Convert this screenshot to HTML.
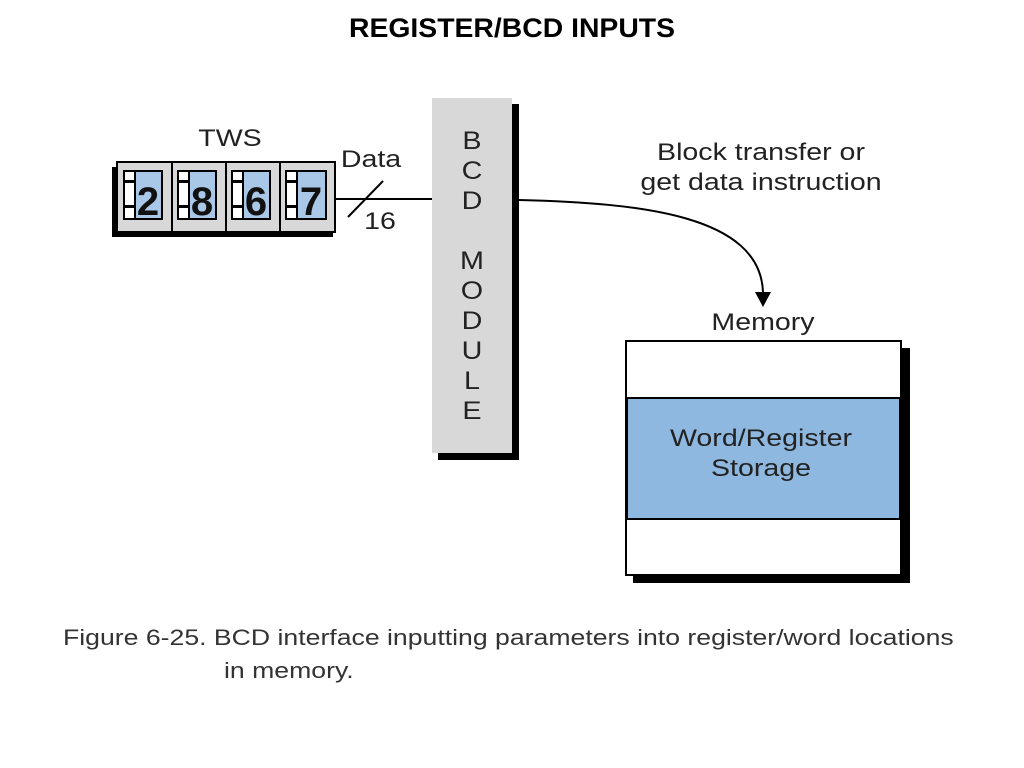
<!DOCTYPE html>
<html><head><style>
body{margin:0;width:1024px;height:768px;background:#fff;overflow:hidden;position:relative;font-family:"Liberation Sans",sans-serif}
.t{position:absolute;white-space:nowrap}
.c{position:absolute;white-space:nowrap;width:400px;text-align:center;transform:scaleX(1.19);transform-origin:center;color:#222;font-size:24px}
</style></head><body>
<div class="t" style="left:0;width:1024px;text-align:center;top:13px;font-size:27px;font-weight:bold;color:#000;transform:scaleX(1.05)">REGISTER/BCD INPUTS</div>
<svg width="1024" height="768" style="position:absolute;left:0;top:0">
<rect x="112" y="167" width="221" height="70" fill="#000"/>
<rect x="117" y="162" width="218" height="70" fill="#d8d8d8" stroke="#000" stroke-width="2"/>
<g stroke="#000" stroke-width="2">
<line x1="172" y1="162" x2="172" y2="232"/><line x1="226" y1="162" x2="226" y2="232"/><line x1="280" y1="162" x2="280" y2="232"/>
</g>
<g>
<rect x="123" y="170" width="40" height="50" fill="#000"/>
<rect x="125" y="172" width="9" height="46" fill="#fff"/><rect x="124" y="180" width="11" height="3" fill="#000"/><rect x="124" y="205" width="11" height="3" fill="#000"/>
<rect x="136" y="172" width="25" height="46" fill="#a9c8e8"/>
<rect x="177" y="170" width="40" height="50" fill="#000"/>
<rect x="179" y="172" width="9" height="46" fill="#fff"/><rect x="178" y="180" width="11" height="3" fill="#000"/><rect x="178" y="205" width="11" height="3" fill="#000"/>
<rect x="190" y="172" width="25" height="46" fill="#a9c8e8"/>
<rect x="231" y="170" width="40" height="50" fill="#000"/>
<rect x="233" y="172" width="9" height="46" fill="#fff"/><rect x="232" y="180" width="11" height="3" fill="#000"/><rect x="232" y="205" width="11" height="3" fill="#000"/>
<rect x="244" y="172" width="25" height="46" fill="#a9c8e8"/>
<rect x="285" y="170" width="42" height="50" fill="#000"/>
<rect x="287" y="172" width="9" height="46" fill="#fff"/><rect x="286" y="180" width="11" height="3" fill="#000"/><rect x="286" y="205" width="11" height="3" fill="#000"/>
<rect x="298" y="172" width="27" height="46" fill="#a9c8e8"/>
</g>
<g font-family="Liberation Sans" font-weight="bold" font-size="40" text-anchor="middle" fill="#111">
<text x="148" y="215">2</text><text x="202" y="215">8</text><text x="256" y="215">6</text><text x="311" y="215">7</text>
</g>
<line x1="335" y1="199" x2="432" y2="199" stroke="#000" stroke-width="2"/>
<line x1="348" y1="217" x2="383" y2="181" stroke="#000" stroke-width="2"/>
<rect x="438" y="104" width="81" height="356" fill="#000"/>
<rect x="432" y="98" width="80" height="355" fill="#d8d8d8"/>
<path d="M519 200 C640 203 760 215 763 292" fill="none" stroke="#000" stroke-width="2"/>
<polygon points="755,292 771,292 763,307" fill="#000"/>
<rect x="633" y="348" width="277" height="235" fill="#000"/>
<rect x="626" y="341" width="275" height="234" fill="#fff" stroke="#000" stroke-width="2"/>
<rect x="627" y="398" width="273" height="121" fill="#8fb8e0" stroke="#000" stroke-width="2"/>
</svg>
<div class="c" style="left:30px;top:125px">TWS</div>
<div class="c" style="left:171px;top:146px">Data</div>
<div class="c" style="left:180px;top:208px">16</div>
<div class="c" style="left:272px;top:126px;font-size:25px;line-height:30px;transform:scaleX(1.15)">B<br>C<br>D<br><br>M<br>O<br>D<br>U<br>L<br>E</div>
<div class="c" style="left:561px;top:138px;line-height:30px">Block transfer or<br>get data instruction</div>
<div class="c" style="left:563px;top:309px">Memory</div>
<div class="c" style="left:561px;top:424px;line-height:30px">Word/Register<br>Storage</div>
<div class="t" style="left:63px;top:625px;font-size:22px;color:#333;transform:scaleX(1.21);transform-origin:left">Figure 6-25. BCD interface inputting parameters into register/word locations</div>
<div class="t" style="left:224px;top:658px;font-size:22px;color:#333;transform:scaleX(1.21);transform-origin:left">in memory.</div>
</body></html>
